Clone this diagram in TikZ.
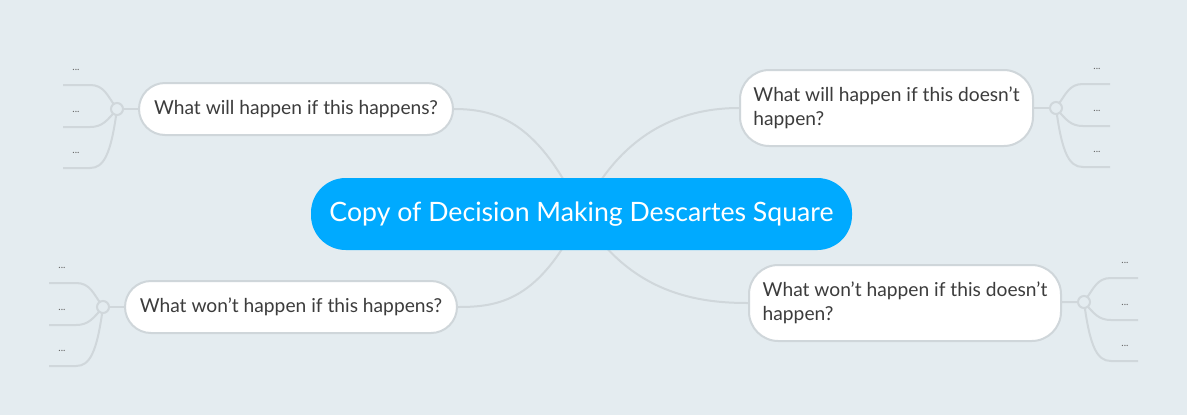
\documentclass[tikz,border=0pt]{standalone}
\usepackage{fontspec}
\setmainfont{Lato}
\definecolor{bgc}{RGB}{228,236,240}
\definecolor{rootc}{RGB}{0,170,255}
\definecolor{bordc}{RGB}{207,214,218}
\definecolor{linec}{RGB}{208,215,219}
\definecolor{txtc}{RGB}{60,60,60}
\definecolor{dotc}{RGB}{100,100,100}
\pgfdeclarelayer{bg}
\pgfsetlayers{bg,main}
\newcommand\mmkids[4]{%
 \foreach \ya/\nm/\cxx/\cyy/\sx in {-24/a/10/-14/14, 18/b/10/12/12, 59/c/6/45/14}{%
  \coordinate (#1\nm in) at ({#2+#4*27},{#3+\ya});
  \coordinate (#1\nm out) at ({#2+#4*54},{#3+\ya});
  \node[dots] (#1\nm) at ({#2+#4*41},{#3+\ya-15}) {...};
  \begin{pgfonlayer}{bg}
  \draw[conn] (#1.center) .. controls +({#4*\cxx},\cyy) and +({-#4*\sx},0) .. (#1\nm in) -- (#1\nm out);
  \end{pgfonlayer}
 }}
\begin{document}
\begin{tikzpicture}[x=0.75pt,y=-0.75pt,
  root/.style={fill=rootc, text=white, font=\fontsize{20}{24}\selectfont, inner sep=0pt,
    minimum width=541*0.75pt, minimum height=72*0.75pt, rounded corners=26pt},
  topic/.style={draw=bordc, line width=1.5pt, fill=white, text=txtc, align=left, inner sep=0pt,
    font=\fontsize{14.4}{18}\selectfont},
  conn/.style={draw=linec, line width=1.5pt},
  dots/.style={text=dotc, font=\fontsize{7.5}{7.5}\selectfont, inner sep=0pt},
  knob/.style={circle, draw=linec, line width=1.5pt, fill=bgc, minimum size=12*0.75pt, inner sep=0pt}]
\begin{pgfonlayer}{bg}
\fill[bgc] (0,0) rectangle (1187,415);
\end{pgfonlayer}
\useasboundingbox (0,0) rectangle (1187,415);

\node[root] (root) at (581.5,214) {Copy of Decision Making Descartes Square};
\node[topic, minimum width=314*0.75pt, minimum height=52*0.75pt, rounded corners=19.5pt] (q1) at (296,109) {What will happen if this happens?};
\node[topic, minimum width=293*0.75pt, minimum height=76*0.75pt, rounded corners=22pt] (q2) at (886.5,108) {What will happen if this doesn’t\\happen?};
\node[topic, minimum width=332*0.75pt, minimum height=52*0.75pt, rounded corners=19.5pt] (q3) at (291,307) {What won’t happen if this happens?};
\node[topic, minimum width=312*0.75pt, minimum height=76*0.75pt, rounded corners=22pt] (q4) at (905,303) {What won’t happen if this doesn’t\\happen?};

\node[knob] (k1) at (117,109) {};
\node[knob] (k2) at (1056,108) {};
\node[knob] (k3) at (103,307) {};
\node[knob] (k4) at (1084,302) {};

\begin{pgfonlayer}{bg}
\draw[conn] (root.center) .. controls (540,125) and (500,109) .. (q1.east);
\draw[conn] (root.center) .. controls (624,125) and (690,108) .. (q2.west);
\draw[conn] (root.center) .. controls (540,300) and (500,307) .. (q3.east);
\draw[conn] (root.center) .. controls (630,295) and (700,303) .. (q4.west);
\draw[conn] (k1) -- (q1);
\draw[conn] (k2) -- (q2);
\draw[conn] (k3) -- (q3);
\draw[conn] (k4) -- (q4);
\end{pgfonlayer}

\mmkids{k1}{117}{109}{-1}
\mmkids{k2}{1056}{108}{1}
\mmkids{k3}{103}{307}{-1}
\mmkids{k4}{1084}{302}{1}
\end{tikzpicture}
\end{document}
